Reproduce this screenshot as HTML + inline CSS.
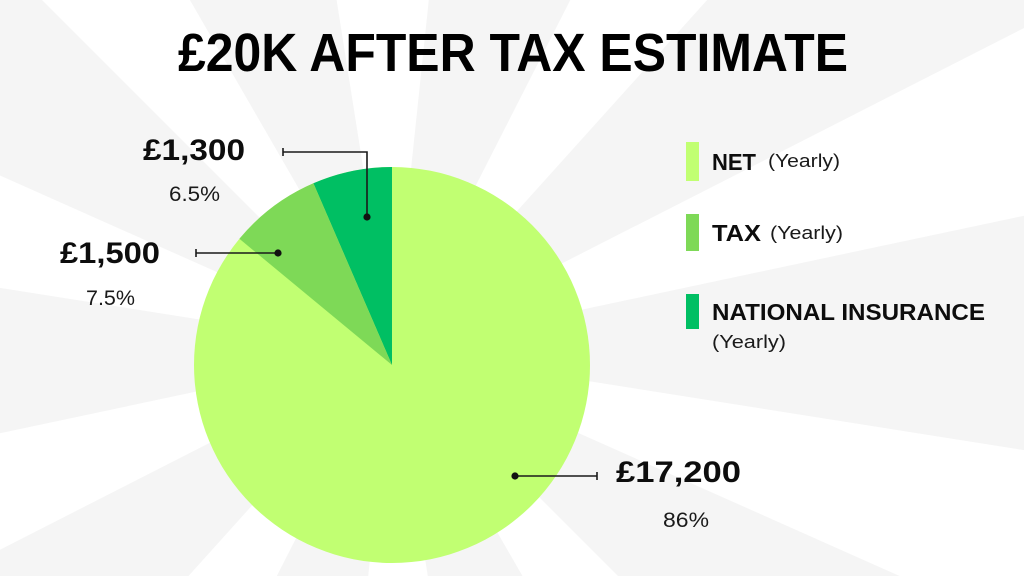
<!DOCTYPE html>
<html>
<head>
<meta charset="utf-8">
<style>
  html, body { margin: 0; padding: 0; background: #ffffff; }
  body { width: 1024px; height: 576px; overflow: hidden; }
  svg { display: block; overflow: hidden; }
  .b { font-family: "Liberation Sans", "DejaVu Sans", sans-serif; font-weight: 700; fill: #0d0d0d; }
  .n { font-family: "Liberation Sans", "DejaVu Sans", sans-serif; font-weight: 400; fill: #1a1a1a; }
</style>
</head>
<body>
<svg width="1024" height="576" viewBox="0 0 1024 576" xmlns="http://www.w3.org/2000/svg">
  <rect x="0" y="0" width="1024" height="576" fill="#ffffff"/>
  <!-- sunburst rays (pre-clipped to frame) -->
  <g fill="#f5f5f5">
    <polygon points="392,350 1024,215.7 1024,450.1"/>
    <polygon points="392,350 899.6,576 618,576"/>
    <polygon points="392,350 522.5,576 427.8,576"/>
    <polygon points="392,350 368.2,576 276.8,576"/>
    <polygon points="392,350 188.5,576 0,576 0,549.7"/>
    <polygon points="392,350 0,433.3 0,287.9"/>
    <polygon points="392,350 0,175.5 0,0 42,0"/>
    <polygon points="392,350 189.9,0 336.6,0"/>
    <polygon points="392,350 428.8,0 570.3,0"/>
    <polygon points="392,350 707.1,0 1024,0 1024,28"/>
  </g>

  <!-- pie -->
  <circle cx="392" cy="365" r="198" fill="#c1ff72"/>
  <path d="M392,365 L392,167 A198,198 0 0 0 313.4,183.3 Z" fill="#00bf63"/>
  <path d="M392,365 L313.4,183.3 A198,198 0 0 0 239.4,238.8 Z" fill="#7ed957"/>

  <!-- leader lines -->
  <g stroke="#1a1a1a" stroke-width="1.6" fill="none">
    <polyline points="283,152 367,152 367,217"/>
    <line x1="283" y1="148" x2="283" y2="156"/>
    <line x1="196" y1="253" x2="278" y2="253"/>
    <line x1="196" y1="249" x2="196" y2="257"/>
    <line x1="515" y1="476" x2="597" y2="476"/>
    <line x1="597" y1="472" x2="597" y2="480"/>
  </g>
  <g fill="#111">
    <circle cx="367" cy="217" r="3.6"/>
    <circle cx="278" cy="253" r="3.6"/>
    <circle cx="515" cy="476" r="3.6"/>
  </g>

  <!-- title -->
  <text class="b" x="178" y="71" font-size="54" textLength="670" lengthAdjust="spacingAndGlyphs" style="fill:#000">£20K AFTER TAX ESTIMATE</text>

  <!-- data labels -->
  <text class="b" x="143" y="160" font-size="30" textLength="102" lengthAdjust="spacingAndGlyphs">£1,300</text>
  <text class="n" x="169" y="201" font-size="21" textLength="51" lengthAdjust="spacingAndGlyphs">6.5%</text>

  <text class="b" x="60" y="263" font-size="30" textLength="100" lengthAdjust="spacingAndGlyphs">£1,500</text>
  <text class="n" x="86" y="305" font-size="21" textLength="49" lengthAdjust="spacingAndGlyphs">7.5%</text>

  <text class="b" x="616" y="482" font-size="30" textLength="125" lengthAdjust="spacingAndGlyphs">£17,200</text>
  <text class="n" x="663" y="527" font-size="21" textLength="46" lengthAdjust="spacingAndGlyphs">86%</text>

  <!-- legend -->
  <rect x="686" y="142" width="13" height="39" fill="#c1ff72"/>
  <rect x="686" y="214" width="13" height="37" fill="#7ed957"/>
  <rect x="686" y="294" width="13" height="35" fill="#00bf63"/>

  <text class="b" x="712" y="170" font-size="23" textLength="44" lengthAdjust="spacingAndGlyphs">NET</text>
  <text class="n" x="768" y="167" font-size="18" textLength="72" lengthAdjust="spacingAndGlyphs">(Yearly)</text>

  <text class="b" x="712" y="241" font-size="23" textLength="49" lengthAdjust="spacingAndGlyphs">TAX</text>
  <text class="n" x="770" y="239" font-size="18" textLength="73" lengthAdjust="spacingAndGlyphs">(Yearly)</text>

  <text class="b" x="712" y="320" font-size="23" textLength="273" lengthAdjust="spacingAndGlyphs">NATIONAL INSURANCE</text>
  <text class="n" x="712" y="348" font-size="18" textLength="74" lengthAdjust="spacingAndGlyphs">(Yearly)</text>
</svg>
</body>
</html>
